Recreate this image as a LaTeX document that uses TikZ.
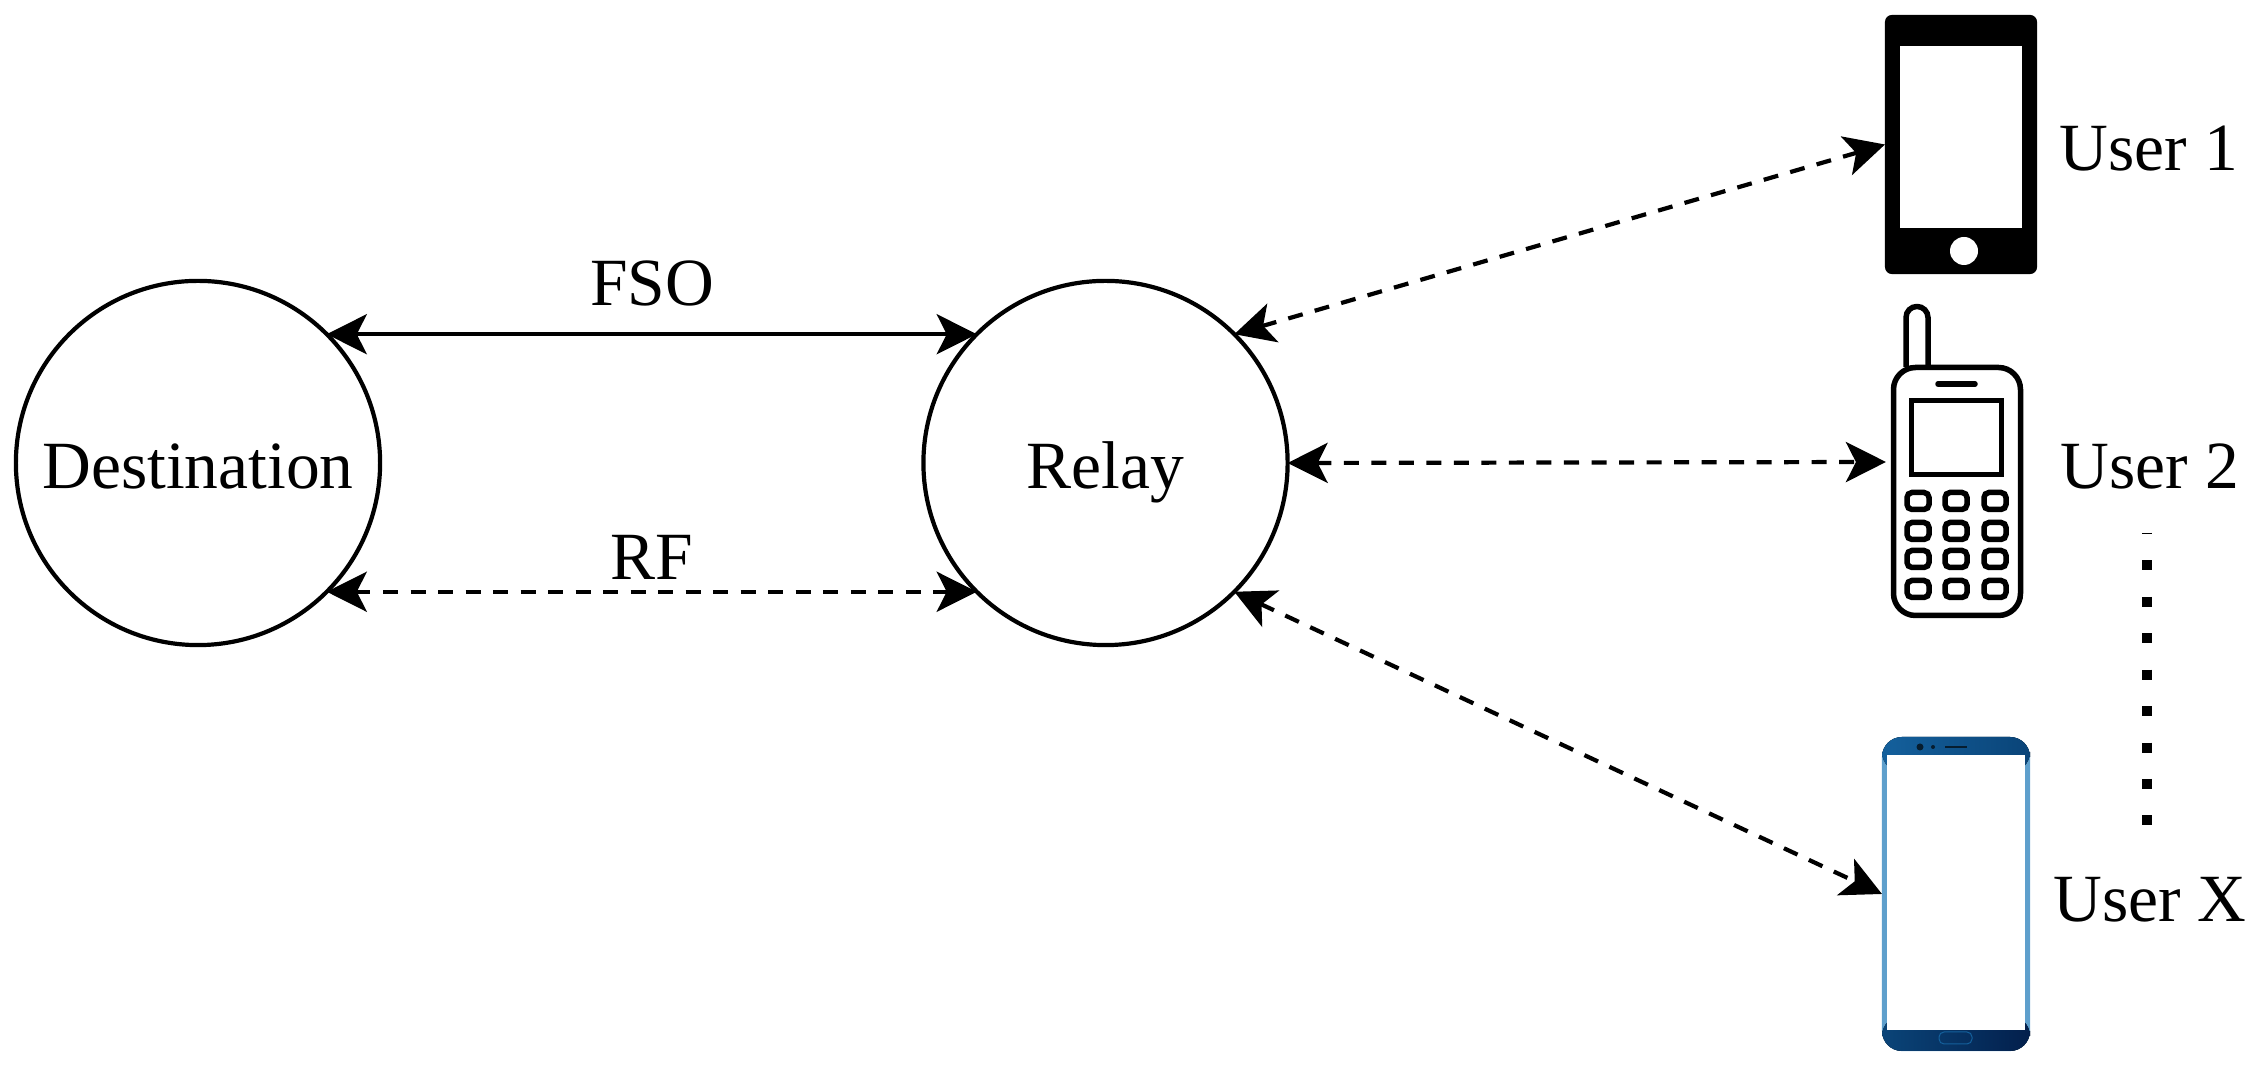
\documentclass[tikz,border=0pt]{standalone}
\usepackage{fontspec}
\setmainfont{Liberation Serif}
\usetikzlibrary{arrows.meta,positioning}
\definecolor{edgeblue}{HTML}{5E9FCC}
\definecolor{topblue}{HTML}{14609C}
\definecolor{midblue}{HTML}{0A4478}
\definecolor{lowblue}{HTML}{031F4C}

\begin{document}
\begin{tikzpicture}[x=0.01cm, y=-0.01cm, node distance=9.07cm,
    main/.style = {draw, circle, line width=0.042cm, minimum size=3.64cm, inner sep=0pt, outer sep=0pt, text height=0.51cm, text depth=0cm},
    tag/.style = {anchor=base, inner sep=0pt, outer sep=0pt},
    device/.style = {inner sep=0pt, outer sep=0pt},
    link/.style = {<->, line width=0.042cm},
    linkdash/.style = {link, dash pattern=on 0.15cm off 0.125cm},
    outline/.style = {line width=0.055cm},
    keycap/.style = {line width=0.055cm, rounded corners=0.05cm},
    every node/.style = {font=\fontsize{19.2}{23}\selectfont},
    >={Stealth[length=0.4cm, width=0.4cm, inset=0.1cm]}]
    \useasboundingbox (0,0) rectangle (2268,1071);

    \node[main] (dest) at (198,463) {Destination};
    \node[main] (relay) [right of=dest] {Relay};

    \draw [link] (dest.45) -- (relay.135);
    \draw [linkdash] (dest.-45) -- (relay.-135);
    \node[tag] (fso) at (652,306) {FSO};
    \node[tag] (rf) at (652,580) {RF};

    \node[device, fill=black, rounded corners=0.07cm, minimum width=1.52cm, minimum height=2.59cm] (phone1) at (1961,144.5) {};
    \fill[white] (1900,46) rectangle (2022,228);
    \fill[white] (1964,251) circle (14);

    \node[device, minimum width=1.42cm, minimum height=3.12cm] (phone2) at (1957,462) {};
    \draw[outline, rounded corners=0.11cm] (1906,367) -- (1906,306.5) -- (1928,306.5) -- (1928,367);
    \draw[outline, rounded corners=0.22cm] (1893.5,367.5) rectangle (2020.5,615.5);
    \draw[outline, line cap=round] (1938,384) -- (1975,384);
    \draw[outline] (1911.5,400.5) rectangle (2001.5,474.5);
    \foreach \kx in {1918,1956,1995}
        \foreach \ky in {501,531,559,589}
            \draw[keycap] (\kx-11,\ky-8.5) rectangle (\kx+11,\ky+8.5);

    \node[device, fill=edgeblue, rounded corners=0.2cm, minimum width=1.48cm, minimum height=3.14cm] (phonex) at (1956,894) {};
    \fill[left color=topblue, right color=midblue, rounded corners=0.2cm] (1882,737) rectangle (2030,772);
    \fill[left color=midblue, right color=lowblue, rounded corners=0.2cm] (1882,1016) rectangle (2030,1051);
    \fill[white] (1887,755) rectangle (2025,1030);
    \fill[black!70!topblue] (1920,747) circle (3.5);
    \fill[black!70!topblue] (1933,747) circle (2);
    \draw[black!70!topblue, line width=0.012cm] (1945,747) -- (1967,747);
    \draw[topblue, line width=0.01cm, rounded corners=0.05cm] (1939,1032) rectangle (1972,1044);

    \draw [linkdash] (relay.45) -- (phone1.west);
    \draw [linkdash] (relay.east) -- (phone2.west);
    \draw [linkdash] (relay.-45) -- (phonex.west);

    \node[tag] (user1) at (2149,171) {User 1};
    \node[tag] (user2) at (2150,489) {User 2};
    \node[tag] (userx) at (2150,922) {User X};

    \coordinate (dotstart) at (2147,533);
    \coordinate (dotstop) at (2147,826);
    \draw [line width=0.1cm, dash pattern=on 0.1cm off 0.264cm, dash phase=0.09cm] (dotstart) -- (dotstop);
\end{tikzpicture}
\end{document}
